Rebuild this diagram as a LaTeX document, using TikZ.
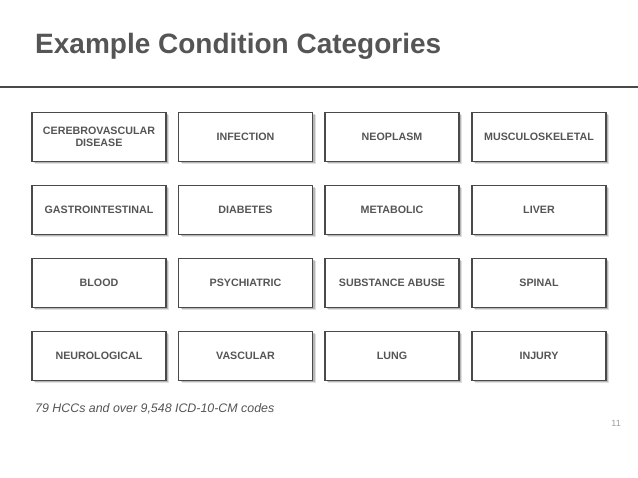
\documentclass[tikz,border=0pt]{standalone}
\usepackage{fontspec}
\setmainfont{Liberation Sans}
\usetikzlibrary{shadows}
\definecolor{txt}{HTML}{555555}
\definecolor{edge}{HTML}{4A4A4A}
\begin{document}
\begin{tikzpicture}[x=1pt,y=1pt,
  cat/.style={draw=edge, line width=1.8pt, fill=white, minimum width=134pt, minimum height=49pt,
    align=center, text=txt, font=\fontsize{10.7}{12.3}\selectfont\bfseries, inner sep=1pt,
    drop shadow={shadow xshift=3pt, shadow yshift=-3pt, fill=black, opacity=0.12},
    drop shadow={shadow xshift=2pt, shadow yshift=-2pt, fill=black, opacity=0.18}}]
\useasboundingbox (0,0) rectangle (638,478);
\fill[white] (0,0) rectangle (638,478);
\node[anchor=base west, text=txt, font=\fontsize{28}{31}\selectfont\bfseries, inner sep=0pt] (title) at (35,424) {Example Condition Categories};
\coordinate (ruleL) at (0,391);
\coordinate (ruleR) at (638,391);
\draw[edge, line width=1.8pt] (ruleL) -- (ruleR);
% row 1
\node[cat] (c11) at (99,341) {CEREBROVASCULAR\\DISEASE};
\node[cat] (c12) at (245.5,341) {INFECTION};
\node[cat] (c13) at (392,341) {NEOPLASM};
\node[cat] (c14) at (539,341) {MUSCULOSKELETAL};
% row 2
\node[cat] (c21) at (99,268) {GASTROINTESTINAL};
\node[cat] (c22) at (245.5,268) {DIABETES};
\node[cat] (c23) at (392,268) {METABOLIC};
\node[cat] (c24) at (539,268) {LIVER};
% row 3
\node[cat] (c31) at (99,195) {BLOOD};
\node[cat] (c32) at (245.5,195) {PSYCHIATRIC};
\node[cat] (c33) at (392,195) {SUBSTANCE ABUSE};
\node[cat] (c34) at (539,195) {SPINAL};
% row 4
\node[cat] (c41) at (99,122) {NEUROLOGICAL};
\node[cat] (c42) at (245.5,122) {VASCULAR};
\node[cat] (c43) at (392,122) {LUNG};
\node[cat] (c44) at (539,122) {INJURY};
\node[anchor=base west, text=txt, font=\fontsize{12.4}{14}\selectfont\itshape, inner sep=0pt] (note) at (35,65) {79 HCCs and over 9,548 ICD-10-CM codes};
\node[anchor=base east, text=black!38, font=\fontsize{9}{10}\selectfont, inner sep=0pt] (page) at (621,51) {11};
\end{tikzpicture}
\end{document}
